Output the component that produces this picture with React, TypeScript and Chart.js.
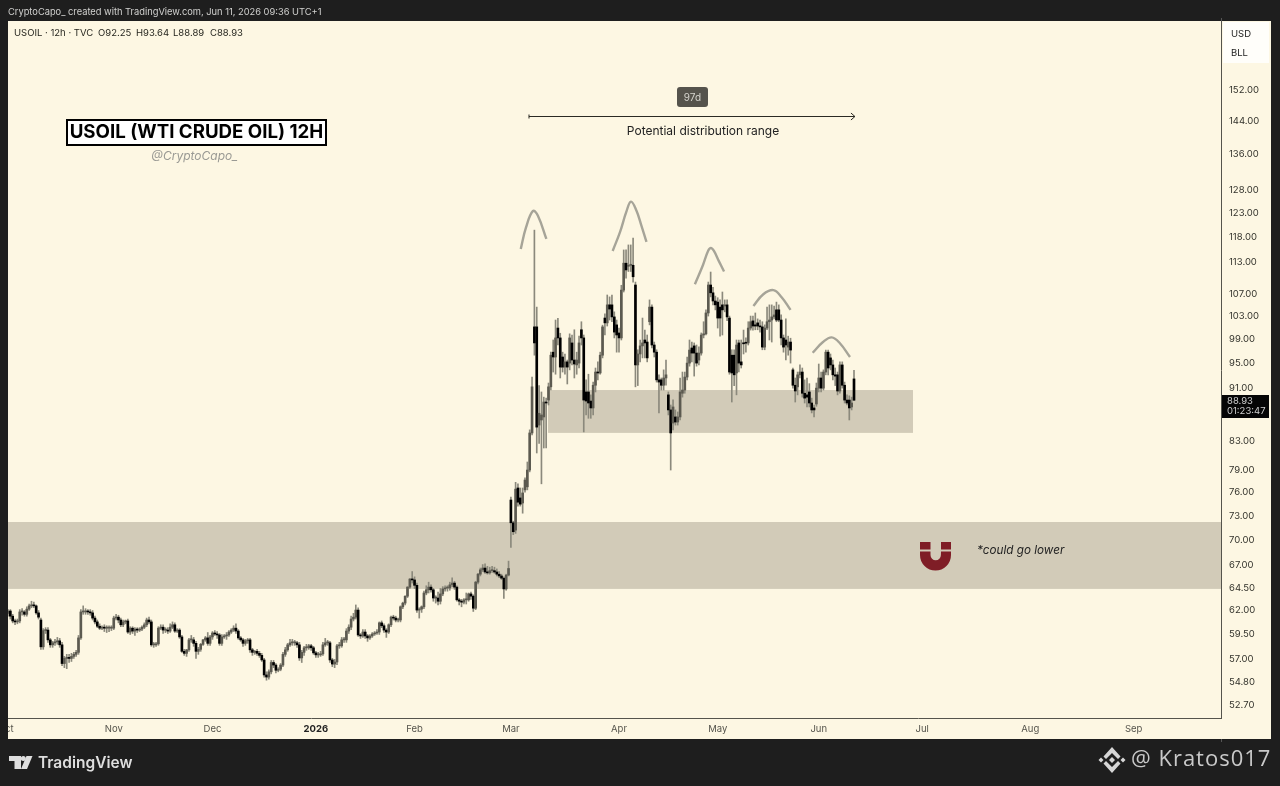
import React, { useEffect, useRef } from "react";
import { Chart, registerables } from "chart.js";

Chart.register(...registerables);

const opens = [
61.6,61.85,61.3,60.8,60.7,60.8,61.75,61.75,61.5,62.05,
62.4,62.5,62.4,61.65,60.9,58.15,59.8,59.85,58.85,58.35,
58.55,58.65,58.75,58.35,56.5,57.0,57.1,57.0,57.2,57.4,
57.6,59.05,61.75,61.75,61.85,61.75,61.65,61.1,60.7,60.25,
60.05,60.15,60.05,60.05,60.05,60.05,61.1,61.2,60.9,60.4,
60.7,60.8,59.65,60.05,59.75,59.95,59.85,59.95,60.15,60.4,
60.9,60.7,58.35,58.35,58.45,60.05,60.15,59.85,59.85,59.75,
60.15,60.4,59.75,59.85,59.15,57.7,57.5,57.85,58.85,58.85,
58.5,57.7,57.9,58.4,58.85,59.05,58.5,59.15,59.55,59.45,
59.35,58.5,59.15,59.25,59.35,59.65,59.85,60.05,59.75,59.05,
58.85,58.5,58.75,58.85,57.85,57.6,57.7,57.5,57.3,56.85,
55.4,55.2,55.7,56.6,56.35,55.85,55.95,56.35,57.4,57.85,
58.35,58.55,58.55,58.55,58.35,57.05,57.6,58.05,58.05,58.25,
58.05,57.55,57.35,57.35,57.45,58.35,58.55,58.55,56.85,56.45,
56.65,58.25,58.25,58.85,58.85,59.75,60.15,61.0,61.2,61.95,
59.35,59.25,59.65,59.25,59.05,59.25,59.45,59.55,59.65,60.6,
60.3,59.85,59.65,60.4,61.2,61.1,60.9,60.9,62.3,62.7,
63.45,64.45,65.35,65.25,64.65,61.95,62.05,62.3,63.8,64.15,
64.45,64.15,63.25,63.25,62.9,63.7,64.25,64.35,64.35,64.7,
64.9,64.45,63.05,62.9,62.8,63.05,63.05,63.7,63.45,62.15,
65.0,65.9,66.4,66.6,66.15,66.05,66.3,66.3,66.15,65.9,
65.7,65.45,64.25,65.8,74.88,72.0,71.1,76.45,75.15,74.5,
76.2,76.6,78.85,84.05,100.9,100.9,85.2,85.95,86.4,88.65,
88.95,91.0,96.6,95.8,100.7,99.0,95.8,94.15,95.0,94.8,
98.15,95.3,94.5,94.8,100.4,99.0,90.2,90.2,88.8,87.75,
91.25,93.35,93.2,96.1,102.45,101.6,104.8,104.8,102.65,101.25,
99.85,99.0,107.5,112.6,112.0,112.2,112.2,108.45,94.5,96.3,
97.65,98.65,98.3,101.8,104.4,97.8,96.6,92.1,92.1,91.25,
92.4,89.75,87.45,85.5,86.4,85.65,86.4,90.0,90.5,92.55,
94.8,97.3,97.65,96.45,95.3,96.45,99.5,99.7,103.35,108.45,
107.0,105.5,105.3,104.4,104.8,104.6,104.8,102.45,96.1,96.1,
93.2,98.15,95.0,98.15,98.15,98.15,100.7,101.95,101.25,101.6,
101.05,100.9,97.45,100.7,101.8,102.1,102.65,103.9,103.9,102.1,
99.0,98.65,97.45,98.3,93.7,91.25,91.0,92.9,93.35,90.0,
89.75,90.2,88.5,87.75,88.35,90.8,92.4,90.8,93.35,96.6,
95.65,94.5,92.9,92.9,90.35,94.5,91.25,88.95,88.95,87.9,
92.25];

const highs = [
62.0,62.0,61.5,61.0,61.0,62.0,62.1,61.9,62.3,62.6,
62.9,62.8,62.5,61.9,61.1,60.0,60.1,60.1,59.0,58.7,
58.9,59.1,59.0,58.6,57.2,57.4,57.4,57.5,57.6,57.8,
59.3,62.0,62.4,62.1,62.0,62.0,61.9,61.3,60.9,60.5,
60.3,60.4,60.3,60.3,60.3,61.3,61.5,61.4,61.1,60.9,
60.9,61.0,60.2,60.2,60.1,60.1,60.1,60.3,60.6,61.1,
61.2,60.9,58.6,58.6,60.2,60.4,60.4,60.1,60.1,60.5,
60.7,60.6,60.0,60.0,59.3,57.9,57.9,59.0,59.3,59.1,
58.7,58.1,58.5,58.9,59.2,59.6,59.3,59.7,59.8,59.7,
59.5,59.4,59.4,59.6,59.8,60.0,60.3,60.5,59.9,59.2,
59.0,58.9,59.0,59.0,58.0,57.8,57.9,57.7,57.5,57.0,
55.7,55.9,56.8,56.8,56.5,56.1,56.5,57.6,58.1,58.5,
58.9,58.9,58.8,58.7,58.6,57.8,58.2,58.4,58.4,58.4,
58.2,57.7,57.6,57.7,58.6,59.0,58.8,58.7,57.0,56.9,
58.4,58.6,59.1,59.1,60.0,60.4,61.3,61.6,62.5,62.2,
59.5,59.9,59.9,59.4,59.4,59.6,59.7,59.9,60.7,60.8,
60.5,60.0,60.5,61.3,61.4,61.3,61.1,62.4,62.8,63.5,
64.5,65.4,66.2,65.6,64.9,62.2,62.4,64.0,64.6,65.0,
64.7,64.3,63.5,63.9,64.3,64.5,64.6,64.6,65.0,65.5,
65.1,64.6,63.2,63.1,63.2,63.8,63.8,63.9,63.6,65.1,
66.0,66.6,67.0,67.1,66.8,66.7,66.8,66.7,66.5,66.2,
65.9,65.6,65.9,67.4,75.25,72.2,77.2,77.0,76.45,76.45,
77.8,79.95,84.5,92.55,119.2,104.4,91.2,90.2,89.4,89.25,
91.6,96.6,98.65,102.1,102.4,99.8,96.6,96.3,95.3,99.7,
99.5,100.4,96.6,99.3,101.8,99.5,92.1,93.0,89.75,91.75,
94.0,95.0,96.6,101.2,103.2,106.6,106.25,106.6,103.55,102.1,
100.7,108.4,115.2,115.2,116.2,116.2,117.6,109.0,97.0,98.65,
102.45,100.35,99.5,105.7,104.8,98.3,97.0,92.9,92.4,93.7,
95.3,90.2,88.2,89.0,87.45,87.15,92.4,93.35,93.35,95.8,
98.65,98.3,98.15,97.8,97.5,99.85,101.8,103.9,109.0,110.9,
108.0,106.4,106.1,105.7,107.15,105.7,105.7,102.8,97.0,97.0,
98.65,98.65,98.65,100.35,99.0,101.8,102.8,102.8,103.35,102.3,
102.1,101.8,101.25,104.4,104.8,104.8,104.6,105.3,104.8,103.0,
99.5,102.3,99.3,98.95,94.0,92.4,93.35,94.5,94.0,92.1,
92.4,91.5,89.25,88.2,91.6,94.65,93.35,93.7,96.95,96.95,
96.3,95.3,94.0,93.35,95.0,95.0,91.75,89.75,89.6,89.4,
93.64];

const lows = [
61.3,61.0,60.6,60.4,60.5,60.6,61.4,61.3,61.3,61.9,
62.2,62.2,61.5,61.0,57.9,57.9,59.5,58.6,58.1,58.1,
58.3,58.4,58.1,56.3,56.1,56.0,56.6,56.7,57.0,57.2,
57.4,58.9,61.5,61.5,61.5,61.4,60.9,60.5,60.1,59.9,
59.9,59.7,59.6,59.7,59.8,59.9,60.9,60.6,60.2,60.2,
60.5,59.5,59.4,59.5,59.3,59.6,59.7,59.8,60.0,60.2,
60.5,58.2,58.1,58.2,58.3,59.9,59.5,59.6,59.5,59.6,
60.0,59.6,59.6,59.0,57.6,57.3,57.2,57.7,58.6,58.2,
57.0,57.4,57.7,58.3,58.7,58.3,58.3,58.9,59.3,59.0,
58.3,58.3,59.0,58.9,59.2,59.5,59.7,59.5,58.9,58.7,
58.2,58.3,58.5,57.6,57.3,57.4,57.3,57.1,56.7,55.2,
54.9,55.0,55.5,56.1,55.6,55.7,55.8,56.2,57.2,57.7,
58.2,58.3,58.3,58.1,56.8,56.6,57.3,57.8,57.9,57.8,
57.4,57.1,57.1,57.2,57.3,58.2,58.3,56.6,56.2,56.1,
56.4,58.0,58.1,58.6,58.6,59.5,59.9,60.8,61.0,59.2,
59.0,59.1,59.0,58.7,58.9,59.1,59.3,59.4,59.4,60.1,
59.6,59.1,59.5,60.2,60.9,60.7,60.7,60.7,62.1,62.5,
63.3,64.3,64.9,64.3,61.7,61.1,61.7,62.1,63.6,63.8,
63.9,62.9,62.7,62.5,62.6,63.5,64.0,64.0,64.1,64.5,
64.2,62.9,62.5,62.3,62.6,62.6,62.9,63.1,61.8,62.0,
64.8,65.7,66.2,66.0,65.9,65.9,66.1,66.0,65.7,65.5,
65.3,63.2,64.1,65.7,69.0,70.55,70.7,74.1,74.1,73.2,
75.9,76.2,78.6,83.75,96.1,81.2,82.55,77.0,81.9,81.9,
88.2,90.5,93.35,93.0,97.8,92.4,93.35,93.0,91.45,93.7,
94.5,92.4,93.0,94.0,97.8,84.2,86.7,86.2,86.2,86.7,
90.2,92.1,93.0,95.65,99.5,101.05,102.1,101.8,99.0,96.6,
96.6,98.65,107.15,109.75,111.0,111.0,109.0,91.0,91.2,95.0,
95.65,95.65,95.0,101.25,97.3,95.8,91.75,87.0,90.5,90.5,
91.25,86.7,78.85,84.5,85.2,85.2,85.95,89.4,90.0,92.1,
94.3,95.0,92.7,94.3,94.5,96.1,99.0,99.5,102.8,106.25,
104.8,103.9,100.7,99.3,99.5,103.55,102.0,93.0,88.65,91.2,
89.75,93.35,94.0,96.3,96.6,97.8,100.35,100.35,100.4,100.4,
100.0,97.0,97.0,100.4,98.65,98.3,102.3,101.8,101.8,97.8,
96.6,95.3,96.1,94.8,90.8,88.65,89.75,92.4,89.4,88.5,
87.9,87.9,87.0,86.4,88.0,90.2,90.2,90.5,92.9,92.9,
93.7,92.1,91.2,89.75,90.0,90.8,88.5,88.2,85.95,87.45,
88.89];

const closes = [
61.85,61.3,60.8,60.7,60.8,61.75,61.75,61.5,62.05,62.4,
62.5,62.4,61.65,61.2,58.15,59.8,59.85,58.85,58.35,58.55,
58.65,58.75,58.35,56.5,57.0,57.1,57.0,57.2,57.4,57.6,
59.05,61.75,61.75,61.85,61.75,61.65,61.1,60.7,60.25,60.05,
60.15,60.05,60.05,60.05,60.05,61.1,61.2,60.9,60.4,60.7,
60.8,59.65,60.05,59.75,59.95,59.85,59.95,60.15,60.4,60.9,
60.7,58.35,58.35,58.45,60.05,60.15,59.85,59.85,59.75,60.15,
60.4,59.75,59.85,59.15,57.7,57.5,57.85,58.85,58.85,58.5,
57.7,57.9,58.4,58.85,59.05,58.5,59.15,59.55,59.45,59.35,
58.5,59.15,59.25,59.35,59.65,59.85,60.05,59.75,59.05,58.85,
58.5,58.75,58.85,57.85,57.6,57.7,57.5,57.3,56.85,55.4,
55.2,55.7,56.6,56.35,55.85,55.95,56.35,57.4,57.85,58.35,
58.55,58.55,58.55,58.35,57.05,57.6,58.05,58.05,58.25,58.05,
57.55,57.35,57.35,57.45,58.35,58.55,58.55,56.85,56.45,56.65,
58.25,58.25,58.85,58.85,59.75,60.15,61.0,61.2,61.95,59.35,
59.25,59.65,59.25,59.05,59.25,59.45,59.55,59.65,60.6,60.3,
59.85,59.65,60.4,61.2,61.1,60.9,60.9,62.3,62.7,63.45,
64.45,65.35,65.25,64.65,61.95,62.05,62.3,63.8,64.15,64.45,
64.15,63.25,63.25,62.9,63.7,64.25,64.35,64.35,64.7,64.9,
64.45,63.05,62.9,62.8,63.05,63.05,63.7,63.45,62.15,65.0,
65.9,66.4,66.6,66.15,66.05,66.3,66.3,66.15,65.9,65.7,
65.45,64.25,65.8,66.55,72.0,70.9,76.3,74.6,74.35,75.8,
77.5,78.85,84.05,91.0,98.15,84.9,86.95,86.7,88.65,88.5,
91.0,96.1,95.8,99.0,99.0,94.15,94.15,95.0,94.15,99.0,
95.3,94.65,95.3,98.15,99.0,88.95,88.8,88.5,87.75,91.25,
93.35,93.2,96.1,100.9,101.6,104.8,104.05,102.65,100.0,99.5,
99.0,107.5,112.6,111.3,112.2,112.2,110.0,94.5,96.3,97.65,
98.15,98.15,95.65,104.4,97.8,96.6,92.1,91.75,91.25,92.4,
92.9,87.45,84.05,87.9,85.65,86.4,90.2,90.5,92.55,94.8,
96.95,96.45,96.45,94.8,96.45,99.5,99.7,103.35,108.45,107.0,
105.5,104.8,102.45,102.45,103.9,104.8,102.65,93.35,93.2,92.9,
97.8,94.8,94.5,98.0,98.1,100.7,101.8,101.05,101.05,101.05,
100.9,97.45,100.7,101.8,102.1,102.65,103.0,102.1,102.1,99.0,
97.45,97.8,98.3,96.95,91.25,90.35,92.9,93.35,90.0,89.25,
89.4,88.5,87.45,87.45,90.8,92.4,90.8,93.35,96.6,94.0,
94.5,92.9,92.7,90.35,94.5,91.25,88.95,88.5,87.75,88.5,
88.93];

const priceTicks = [152,144,136,128,123,118,113,107,103,99,95,91,83,79,76,73,70,67,64.5,62,59.5,57,54.8,52.7];
const monthTicks = [-1,45,87,131,173,214,260,302,345,389,435,479];
const monthLabels = ["Oct","Nov","Dec","2026","Feb","Mar","Apr","May","Jun","Jul","Aug","Sep"];

const humpXs = [
  [218.2,220.4,223.4,225.5,229.1],
  [257.3,260.5,263.1,265.1,267.4,269.5,271.7],
  [292.3,295.7,297.9,299.1,300.4,302.5,304.7],
  [317.2,321.3,325.7,329.2,333],
  [342.4,346.8,350.5,354,358.3],
];
const humpPrices = [
  [115.4,119.7,123.2,122.2,117.4],
  [115.0,118.9,123.0,125.2,123.3,120.2,116.8],
  [108.6,112.2,115.0,115.6,115.0,113.0,111.0],
  [104.6,106.7,107.5,106.2,103.9],
  [96.5,98.3,99.1,98.1,95.8],
];

const upperZone = [90.5, 84.06];
const upperZoneSpan = [229.8, 385.1];
const lowerZone = [72.1, 64.25];
const rangeSpan = [221.7, 360.4];
const rangePrice = 145.1;

const X_MAX = 516.17;
const Y_MIN = 51.44;
const Y_MAX = 170.6;
const UI = "Inter, 'Liberation Sans', sans-serif";

const indices = closes.map((_, i) => i);
const isUp = indices.map((i) => closes[i] >= opens[i]);

const drawText = (ctx: any, s: string, x: number, y: number, font: string, color: string, align: any = "left") => {
  ctx.font = font;
  ctx.fillStyle = color;
  ctx.textAlign = align;
  ctx.textBaseline = "middle";
  ctx.fillText(s, x, y);
};

const framePlugin = {
  id: "frame",
  beforeDraw(chart: any) {
    const { ctx } = chart;
    ctx.save();
    ctx.fillStyle = "#1e1e1e";
    ctx.fillRect(0, 0, 1280, 786);
    ctx.fillStyle = "#fdf7e3";
    ctx.fillRect(8, 21, 1263, 718);
    ctx.restore();
  },
  beforeDatasetsDraw(chart: any) {
    const { ctx, scales, chartArea } = chart;
    const { x, y } = scales;
    ctx.save();
    ctx.fillStyle = "#d2cbb8";
    const ly0 = y.getPixelForValue(lowerZone[0]);
    const ly1 = y.getPixelForValue(lowerZone[1]);
    ctx.fillRect(chartArea.left, ly0, chartArea.right - chartArea.left, ly1 - ly0);
    const uy0 = y.getPixelForValue(upperZone[0]);
    const uy1 = y.getPixelForValue(upperZone[1]);
    const ux0 = x.getPixelForValue(upperZoneSpan[0]);
    const ux1 = x.getPixelForValue(upperZoneSpan[1]);
    ctx.fillRect(ux0, uy0, ux1 - ux0, uy1 - uy0);
    ctx.restore();
  },
  afterDatasetsDraw(chart: any) {
    const { ctx, scales } = chart;
    const { x, y } = scales;
    ctx.save();
    const ay = Math.round(y.getPixelForValue(rangePrice)) + 0.5;
    const ax0 = x.getPixelForValue(rangeSpan[0]);
    const ax1 = x.getPixelForValue(rangeSpan[1]);
    ctx.lineWidth = 1;
    ctx.beginPath();
    ctx.moveTo(ax0, ay);
    ctx.lineTo(ax1, ay);
    ctx.moveTo(ax0, ay - 2);
    ctx.lineTo(ax0, ay + 2);
    ctx.moveTo(ax1 - 4, ay - 3.5);
    ctx.lineTo(ax1, ay);
    ctx.lineTo(ax1 - 4, ay + 3.5);
    ctx.strokeStyle = "#2b2a24";
    ctx.stroke();
    ctx.fillStyle = "#55534c";
    ctx.beginPath();
    ctx.roundRect(677, 87, 31, 20, 3);
    ctx.fill();
    drawText(ctx, "97d", 692.5, 97.5, `10px ${UI}`, "#d6d5cf", "center");
    drawText(ctx, "Potential distribution range", 703, 131, `12px ${UI}`, "#222", "center");
    ctx.fillStyle = "#ffffff";
    ctx.fillRect(66, 119, 261, 27);
    ctx.strokeStyle = "#000";
    ctx.lineWidth = 2;
    ctx.strokeRect(67, 120, 259, 25);
    drawText(ctx, "USOIL (WTI CRUDE OIL) 12H", 196.5, 132.5, `bold 18.7px ${UI}`, "#000", "center");
    drawText(ctx, "@CryptoCapo_", 194.5, 156, `italic 12px ${UI}`, "#9a9a94", "center");
    ctx.fillStyle = "#7f1d26";
    ctx.fillRect(920, 542, 10.5, 7.5);
    ctx.fillRect(941, 542, 10, 7.5);
    ctx.beginPath();
    ctx.moveTo(920, 551.5);
    ctx.lineTo(930.5, 551.5);
    ctx.lineTo(930.5, 555);
    ctx.arc(935.7, 555, 5.2, Math.PI, 0, true);
    ctx.lineTo(941, 551.5);
    ctx.lineTo(951, 551.5);
    ctx.lineTo(951, 555);
    ctx.arc(935.5, 555, 15.5, 0, Math.PI, false);
    ctx.closePath();
    ctx.fill();
    drawText(ctx, "*could go lower", 977, 550.5, `italic 11.7px ${UI}`, "#222", "left");
    ctx.restore();
  },
  afterDraw(chart: any) {
    const { ctx } = chart;
    ctx.save();
    ctx.fillStyle = "#1e1e1e";
    ctx.fillRect(0, 0, 8, 786);
    ctx.fillStyle = "#555";
    ctx.fillRect(1221, 18, 1, 4);
    ctx.fillRect(1221, 739, 1, 3);
    drawText(ctx, "CryptoCapo_ created with TradingView.com, Jun 11, 2026 09:36 UTC+1", 8, 12.5, `9.3px ${UI}`, "#d2d2d0");
    drawText(ctx, "USOIL · 12h · TVC", 14, 33.5, `9.5px ${UI}`, "#26261f");
    drawText(ctx, "O92.25", 98, 33.5, `9.5px ${UI}`, "#26261f");
    drawText(ctx, "H93.64", 136, 33.5, `9.5px ${UI}`, "#26261f");
    drawText(ctx, "L88.89", 173, 33.5, `9.5px ${UI}`, "#26261f");
    drawText(ctx, "C88.93", 210, 33.5, `9.5px ${UI}`, "#26261f");
    ctx.fillStyle = "#fffefa";
    ctx.fillRect(1223, 22, 46, 41);
    drawText(ctx, "USD", 1231, 34, `9.5px ${UI}`, "#222");
    drawText(ctx, "BLL", 1231, 53.5, `9.5px ${UI}`, "#222");
    ctx.fillStyle = "#050505";
    ctx.fillRect(1222, 395, 47, 23);
    drawText(ctx, "88.93", 1227, 401.5, `9.5px ${UI}`, "#cfcfcf");
    drawText(ctx, "01:23:47", 1227, 411.5, `9.5px ${UI}`, "#cfcfcf");
    ctx.fillStyle = "#dedede";
    ctx.fillRect(9, 756, 12, 5);
    ctx.fillRect(14.5, 756, 6.5, 13);
    ctx.beginPath();
    ctx.arc(23.3, 758.6, 2.5, 0, Math.PI * 2);
    ctx.fill();
    ctx.beginPath();
    ctx.moveTo(26.5, 756);
    ctx.lineTo(32.5, 756);
    ctx.lineTo(27, 769);
    ctx.lineTo(21, 769);
    ctx.closePath();
    ctx.fill();
    drawText(ctx, "TradingView", 38, 763, `600 15.5px ${UI}`, "#dedede");
    const cx = 1112, cy = 760;
    const diamond = (dx: number, dy: number, r: number) => {
      ctx.beginPath();
      ctx.moveTo(cx + dx, cy + dy - r);
      ctx.lineTo(cx + dx + r, cy + dy);
      ctx.lineTo(cx + dx, cy + dy + r);
      ctx.lineTo(cx + dx - r, cy + dy);
      ctx.closePath();
      ctx.fill();
    };
    ctx.fillStyle = "#d6d6d6";
    diamond(0, 0, 3);
    diamond(-11, 0, 2.5);
    diamond(11, 0, 2.5);
    [1, -1].forEach((sign) => {
      ctx.beginPath();
      ctx.moveTo(cx - 8.5, cy + sign * 3.5);
      ctx.lineTo(cx, cy + sign * 13);
      ctx.lineTo(cx + 8.5, cy + sign * 3.5);
      ctx.lineTo(cx + 6, cy + sign * 1);
      ctx.lineTo(cx, cy + sign * 7);
      ctx.lineTo(cx - 6, cy + sign * 1);
      ctx.closePath();
      ctx.fill();
    });
    ctx.letterSpacing = "1px";
    drawText(ctx, "@ Kratos017", 1131, 760, `22px 'Open Sans', sans-serif`, "#c9c9c9");
    ctx.letterSpacing = "0px";
    ctx.restore();
  },
};

export default function App() {
  const ref = useRef<HTMLCanvasElement>(null);
  useEffect(() => {
    document.body.style.margin = "0";
    document.body.style.background = "#1e1e1e";
    const humpSets = humpXs.map((xs, h) => ({
      type: "line" as const,
      data: xs.map((x, i) => ({ x, y: humpPrices[h][i] })),
      borderColor: "#a6a498",
      borderWidth: 2.4,
      pointRadius: 0,
      tension: 0.4,
      order: 0,
      clip: false,
    }));
    const chart = new Chart(ref.current!, {
      type: "bar",
      data: {
        datasets: [
          {
            type: "bar",
            data: indices.map((i) => ({ x: i, y: [lows[i], highs[i]] })),
            backgroundColor: "#8b897c",
            barThickness: 1,
            grouped: false,
            order: 2,
          },
          {
            type: "bar",
            data: indices.map((i) => ({ x: i, y: [opens[i], closes[i]] })),
            backgroundColor: indices.map((i) => (isUp[i] ? "#5c5a50" : "#000000")),
            barThickness: 2,
            minBarLength: 1,
            grouped: false,
            order: 1,
          },
          ...humpSets,
        ] as any,
      },
      options: {
        responsive: false,
        animation: false,
        devicePixelRatio: 1,
        layout: { autoPadding: false, padding: { left: 8, top: 22, right: 9, bottom: 47 } },
        plugins: { legend: { display: false }, tooltip: { enabled: false }, title: { display: false } },
        scales: {
          x: {
            type: "linear",
            offset: false,
            bounds: "data",
            min: 0,
            max: X_MAX,
            grid: { display: false, drawTicks: false },
            border: { display: true, color: "#55544c", width: 1 },
            afterBuildTicks: (s: any) => {
              s.ticks = monthTicks.map((value) => ({ value }));
            },
            afterFit: (s: any) => {
              s.height = 21;
              s.paddingLeft = 0;
              s.paddingRight = 0;
            },
            ticks: {
              autoSkip: false,
              maxRotation: 0,
              padding: 5,
              color: (c: any) => (c.index === 3 ? "#222" : "#55544c"),
              font: (c: any) => ({ family: "Inter", size: 9.5, weight: c.index === 3 ? "bold" : "normal" }),
              callback: (_v: any, i: number) => monthLabels[i],
            },
          },
          y: {
            type: "logarithmic",
            position: "right",
            bounds: "data",
            min: Y_MIN,
            max: Y_MAX,
            grid: { display: false, drawTicks: false },
            border: { display: true, color: "#55544c", width: 1 },
            afterBuildTicks: (s: any) => {
              s.ticks = priceTicks.map((value) => ({ value }));
            },
            afterFit: (s: any) => {
              s.width = 50;
              s.paddingTop = 0;
              s.paddingBottom = 0;
            },
            ticks: {
              autoSkip: false,
              padding: 8,
              labelOffset: 1,
              color: "#33332c",
              font: { family: "Inter", size: 9.5 },
              callback: (v: any) => Number(v).toFixed(2),
            },
          },
        },
      } as any,
      plugins: [framePlugin],
    });
    return () => chart.destroy();
  }, []);
  return <canvas ref={ref} width={1280} height={786} style={{ display: "block", width: 1280, height: 786 }} />;
}
